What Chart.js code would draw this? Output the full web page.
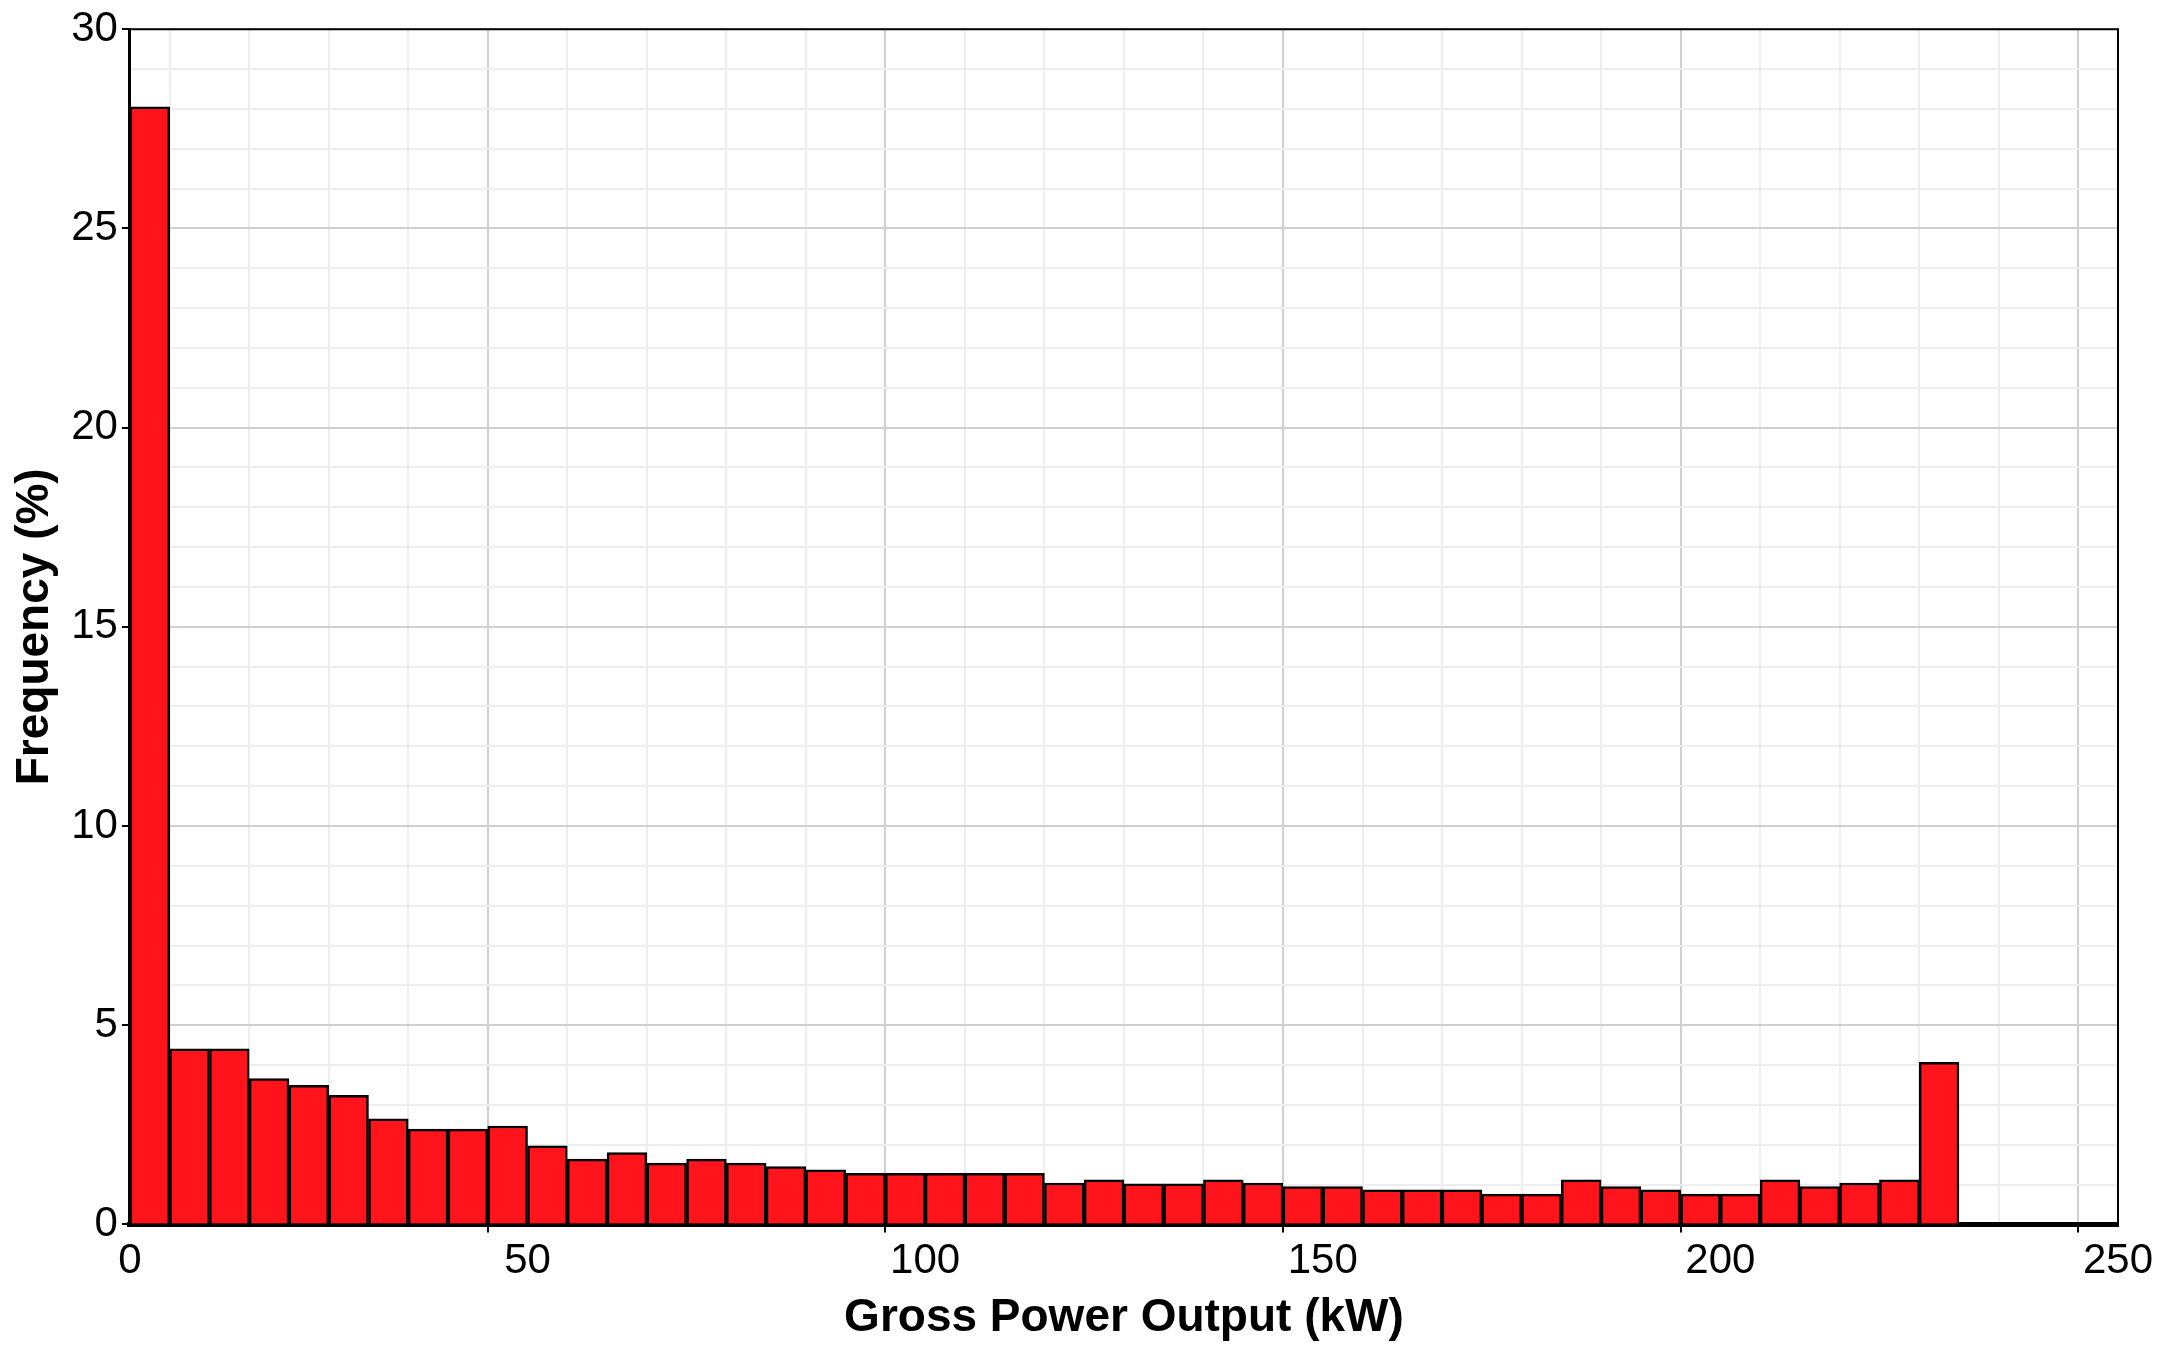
<!DOCTYPE html>
<html>
<head>
<meta charset="utf-8">
<script src="https://cdn.jsdelivr.net/npm/chart.js@4"></script>
<style>
  html, body { margin: 0; padding: 0; background: #fff; }
  #wrap { width: 2166px; height: 1354px; }
</style>
</head>
<body>
<div id="wrap"><canvas id="hist"></canvas></div>
<script>
// bin centres (kW), 5 kW wide bins from 0 to 230
const binCentres = [2.5, 7.5, 12.5, 17.5, 22.5, 27.5, 32.5, 37.5, 42.5, 47.5,
  52.5, 57.5, 62.5, 67.5, 72.5, 77.5, 82.5, 87.5, 92.5, 97.5,
  102.5, 107.5, 112.5, 117.5, 122.5, 127.5, 132.5, 137.5, 142.5, 147.5,
  152.5, 157.5, 162.5, 167.5, 172.5, 177.5, 182.5, 187.5, 192.5, 197.5,
  202.5, 207.5, 212.5, 217.5, 222.5, 227.5];
// frequency (%)
const frequency = [28.05, 4.41, 4.41, 3.66, 3.49, 3.24, 2.65, 2.39, 2.39, 2.47,
  1.97, 1.64, 1.8, 1.54, 1.64, 1.54, 1.45, 1.37, 1.28, 1.28,
  1.28, 1.28, 1.28, 1.04, 1.12, 1.02, 1.02, 1.12, 1.04, 0.95,
  0.95, 0.87, 0.87, 0.87, 0.76, 0.76, 1.12, 0.95, 0.87, 0.76,
  0.76, 1.12, 0.95, 1.04, 1.12, 4.07];
const xLabelEvery = 50;
const yLabelEvery = 5;

const tickFont = { family: 'Liberation Sans, Arial, sans-serif', size: 42 };
const titleFont = { family: 'Liberation Sans, Arial, sans-serif', size: 46, weight: 'bold' };

// true when the tick is a labelled (major) one
const isMajor = (c, every) => c.tick ? c.tick.value % every === 0 : true;

new Chart(document.getElementById('hist'), {
  type: 'bar',
  data: {
    datasets: [{
      label: 'Frequency',
      data: binCentres.map((x, i) => ({ x: x, y: frequency[i] })),
      backgroundColor: '#ff141c',
      borderColor: '#000',
      borderWidth: 2.5,
      barPercentage: 1,
      categoryPercentage: 1
    }]
  },
  options: {
    responsive: true,
    maintainAspectRatio: false,
    animation: false,
    layout: { padding: { top: 22, right: 48, left: 4, bottom: 4 } },
    plugins: { legend: { display: false }, tooltip: { enabled: false } },
    scales: {
      x: {
        type: 'linear',
        min: 0, max: 250,
        offset: false,
        ticks: {
          stepSize: 10, autoSkip: false, maxRotation: 0,
          color: '#000', font: tickFont, padding: 4,
          callback: v => v % xLabelEvery === 0 ? v : ''
        },
        grid: {
          color: c => isMajor(c, xLabelEvery) ? '#d0d0d0' : '#eeeeee',
          lineWidth: 2,
          tickLength: 8,
          tickColor: c => isMajor(c, xLabelEvery) ? '#000' : 'rgba(0,0,0,0)'
        },
        border: { color: '#000', width: 5 },
        title: { display: true, text: 'Gross Power Output (kW)', color: '#000', font: titleFont, padding: { top: 0 } }
      },
      y: {
        min: 0, max: 30,
        ticks: {
          stepSize: 1, autoSkip: false,
          color: '#000', font: tickFont, padding: 4,
          callback: v => v % yLabelEvery === 0 ? v : ''
        },
        grid: {
          color: c => isMajor(c, yLabelEvery) ? '#d0d0d0' : '#eeeeee',
          lineWidth: 2,
          tickLength: 8,
          tickColor: c => isMajor(c, yLabelEvery) ? '#000' : 'rgba(0,0,0,0)'
        },
        border: { color: '#000', width: 3 },
        title: { display: true, text: 'Frequency (%)', color: '#000', font: titleFont, padding: { bottom: 4 } }
      }
    }
  },
  plugins: [{
    id: 'frame',
    afterDraw(chart) {
      const a = chart.chartArea, ctx = chart.ctx;
      ctx.save();
      ctx.strokeStyle = '#000';
      ctx.lineWidth = 2;
      ctx.beginPath();
      ctx.moveTo(a.left, a.top); ctx.lineTo(a.right, a.top); ctx.lineTo(a.right, a.bottom);
      ctx.stroke();
      ctx.restore();
    }
  }]
});
</script>
</body>
</html>
